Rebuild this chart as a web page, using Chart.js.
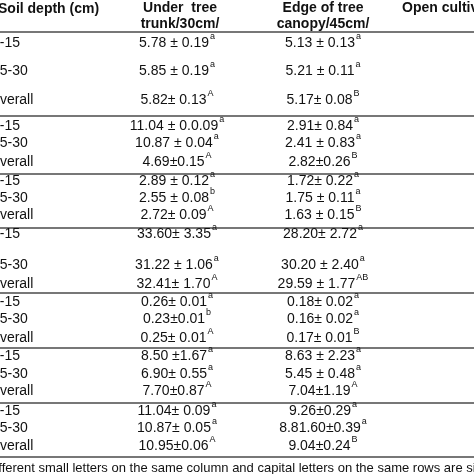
<!DOCTYPE html>
<html><head><meta charset="utf-8">
<script src="https://cdn.jsdelivr.net/npm/chart.js"></script>
<style>html,body{margin:0;padding:0;background:#fff}#w{width:474px;height:474px}</style>
</head><body><div id="w"><canvas id="c"></canvas></div>
<script>
const depths = ["0-15","15-30","Overall","0-15","15-30","Overall","0-15","15-30","Overall","0-15","15-30","Overall","0-15","15-30","Overall","0-15","15-30","Overall","0-15","15-30","Overall"];
const underTree = ["5.78 ± 0.19","5.85 ± 0.19","5.82± 0.13","11.04 ± 0.0.09","10.87 ± 0.04","4.69±0.15","2.89 ± 0.12","2.55 ± 0.08","2.72± 0.09","33.60± 3.35","31.22 ± 1.06","32.41± 1.70","0.26± 0.01","0.23±0.01","0.25± 0.01","8.50 ±1.67","6.90± 0.55","7.70±0.87","11.04± 0.09","10.87± 0.05","10.95±0.06"];
const underSup = ["a","a","A","a","a","A","a","b","A","a","a","A","a","b","A","a","a","A","a","a","A"];
const edgeCanopy = ["5.13 ± 0.13","5.21 ± 0.11","5.17± 0.08","2.91± 0.84","2.41 ± 0.83","2.82±0.26","1.72± 0.22","1.75 ± 0.11","1.63 ± 0.15","28.20± 2.72","30.20 ± 2.40","29.59 ± 1.77","0.18± 0.02","0.16± 0.02","0.17± 0.01","8.63 ± 2.23","5.45 ± 0.48","7.04±1.19","9.26±0.29","8.81.60±0.39","9.04±0.24"];
const edgeSup = ["a","a","B","a","a","B","a","a","B","a","a","AB","a","a","B","a","a","A","a","a","B"];
const rowY = [43,71,100,126,143,162,181,198,215,234,265,284,302,319,338,356,374,391,411,428,446];
const ruleY = [32,116,174,228,293,348,403,457];
const headers = [["Soil depth (cm)"],["Under  tree","trunk/30cm/"],["Edge of tree","canopy/45cm/"],["Open cultiv"]];
const footnote = "Different small letters on the same column and capital letters on the same rows are significantly different";

const tablePlugin = {id:'table', afterDraw(chart){
  const ctx = chart.ctx, xs = chart.scales.x, ys = chart.scales.y;
  const X = v => xs.getPixelForValue(v), Y = v => ys.getPixelForValue(v);
  ctx.save();
  ctx.fillStyle = '#fff'; ctx.fillRect(0,0,chart.width,chart.height);
  ctx.fillStyle = '#111'; ctx.textBaseline = 'middle';
  ctx.font = 'bold 14px "Liberation Sans", Arial';
  ctx.textAlign = 'left'; ctx.fillText(headers[0][0], X(-2), Y(9));
  ctx.textAlign = 'center';
  ctx.fillText(headers[1][0], X(180), Y(8)); ctx.fillText(headers[1][1], X(180), Y(24));
  ctx.fillText(headers[2][0], X(323), Y(8)); ctx.fillText(headers[2][1], X(323), Y(24));
  ctx.textAlign = 'left'; ctx.fillText(headers[3][0], X(402), Y(8));
  ctx.strokeStyle = '#777'; ctx.lineWidth = 2;
  ruleY.forEach(y => { ctx.beginPath(); ctx.moveTo(X(0), Y(y)); ctx.lineTo(X(474), Y(y)); ctx.stroke(); });
  const font = '14px "Liberation Sans", Arial', sfont = '9px "Liberation Sans", Arial';
  const cell = (t, s, cx, y) => {
    ctx.font = font; const w = ctx.measureText(t).width;
    ctx.font = sfont; const sw = ctx.measureText(s).width;
    const x0 = X(cx) - (w + sw + 1) / 2;
    ctx.textAlign = 'left';
    ctx.font = font; ctx.fillText(t, x0, Y(y));
    ctx.font = sfont; ctx.fillText(s, x0 + w + 1, Y(y) - 6);
  };
  depths.forEach((d, i) => {
    ctx.font = font; ctx.textAlign = 'left';
    const off = d === 'Overall' ? -11 : (d === '0-15' ? -8 : -8);
    ctx.fillText(d, X(off), Y(rowY[i]));
    cell(underTree[i], underSup[i], 177, rowY[i]);
    cell(edgeCanopy[i], edgeSup[i], 323, rowY[i]);
  });
  ctx.font = '13px "Liberation Sans", Arial'; ctx.textAlign = 'left';
  ctx.fillText(footnote, X(-14), Y(468));
  ctx.restore();
}};

new Chart(document.getElementById('c'), {
  type: 'scatter',
  data: {datasets: []},
  options: {
    responsive: true, maintainAspectRatio: false, animation: false,
    layout: {padding: 0},
    plugins: {legend: {display: false}, tooltip: {enabled: false}},
    scales: {
      x: {type: 'linear', min: 0, max: 474, display: false},
      y: {type: 'linear', min: 0, max: 474, reverse: true, display: false}
    }
  },
  plugins: [tablePlugin]
});
</script></body></html>
